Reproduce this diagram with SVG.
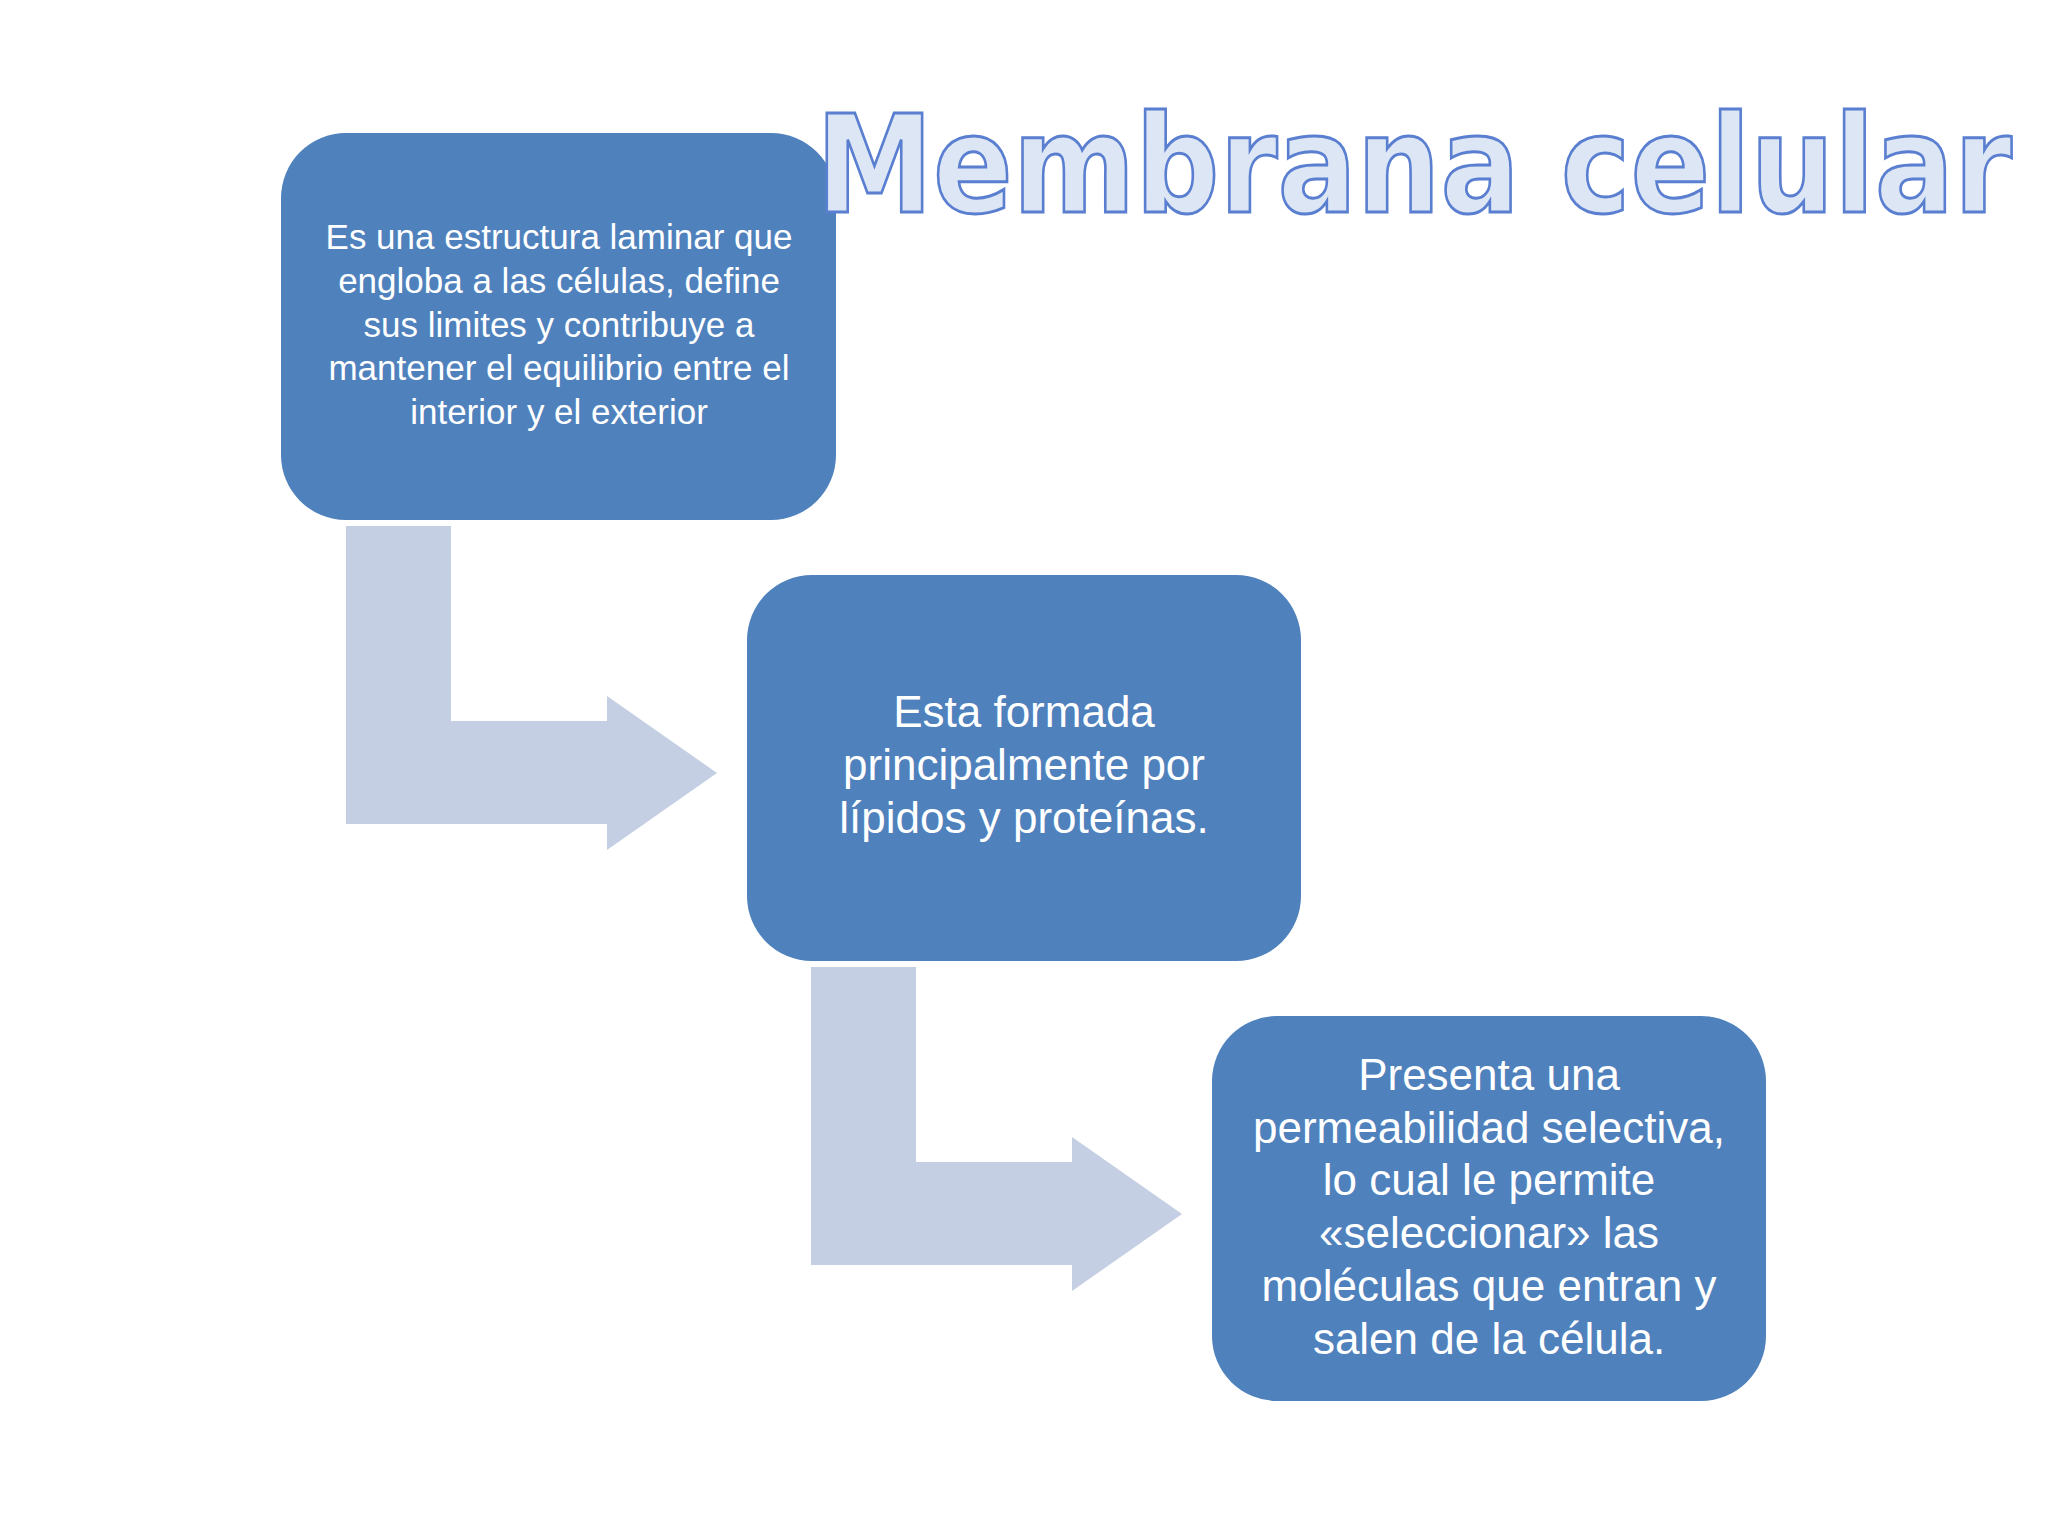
<svg xmlns="http://www.w3.org/2000/svg" width="2048" height="1536" viewBox="0 0 2048 1536">
<style>
.box{fill:#4F81BD}
.arr{fill:#C5CFE3}
.t{font-family:"Liberation Sans","DejaVu Sans",sans-serif;fill:#fff;text-anchor:middle}
.title{font-family:"DejaVu Sans",Verdana,sans-serif;font-weight:bold;font-size:136px;fill:#DCE6F5;stroke:#5B7FD0;stroke-width:3}
</style>
<rect width="2048" height="1536" fill="#fff"/>
<g id="connectors">
<path class="arr" d="M346,526 H451 V721 H607 V696 L717,773 L607,850 V824 H346 Z"/>
<path class="arr" d="M811,967 H916 V1162 H1072 V1137 L1182,1214 L1072,1291 V1265 H811 Z"/>
</g>
<g id="node1">
<rect class="box" x="281" y="133" width="555" height="387" rx="65"/>
<text class="t" font-size="35"><tspan x="559" y="249">Es una estructura laminar que</tspan><tspan x="559" y="293">engloba a las células, define</tspan><tspan x="559" y="337">sus limites y contribuye a</tspan><tspan x="559" y="380">mantener el equilibrio entre el</tspan><tspan x="559" y="424">interior y el exterior</tspan></text>
</g>
<g id="node2">
<rect class="box" x="747" y="575" width="554" height="386" rx="65"/>
<text class="t" font-size="44"><tspan x="1024" y="727">Esta formada</tspan><tspan x="1024" y="780">principalmente por</tspan><tspan x="1024" y="833">lípidos y proteínas.</tspan></text>
</g>
<g id="node3">
<rect class="box" x="1212" y="1016" width="554" height="385" rx="65"/>
<text class="t" font-size="44"><tspan x="1489" y="1090">Presenta una</tspan><tspan x="1489" y="1143">permeabilidad selectiva,</tspan><tspan x="1489" y="1195">lo cual le permite</tspan><tspan x="1489" y="1248">«seleccionar» las</tspan><tspan x="1489" y="1301">moléculas que entran y</tspan><tspan x="1489" y="1354">salen de la célula.</tspan></text>
</g>
<g id="title">
<text class="title" x="816" y="212" textLength="1196" lengthAdjust="spacingAndGlyphs">Membrana celular</text>
</g>
</svg>
